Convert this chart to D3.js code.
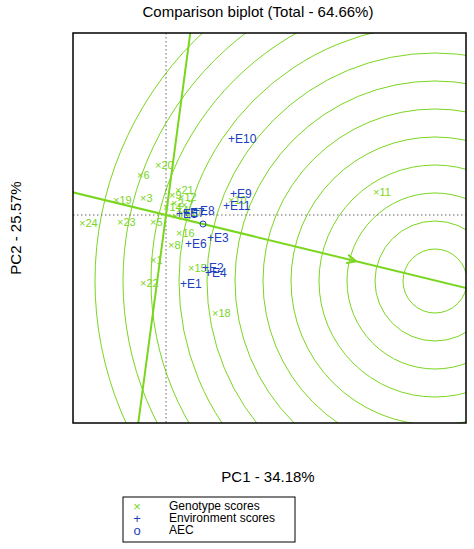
<!DOCTYPE html><html><head><script src="https://d3js.org/d3.v7.min.js"></script>
<style>body{margin:0;background:#fff}text{font-family:"Liberation Sans",Arial,sans-serif}</style></head><body>
<script>
const genoNames=["11","18","22","1","15","24","23","19","3","6","20","5","8","16","10","2","4","7","9","12","13","14","17","21"];
const genoPC1=[20.7,4.6,-2.6,-1.6,2.2,-8.7,-4.9,-5.3,-2.6,-2.9,-1.1,-1.6,0.2,1.0,6.2,0.5,1.0,1.5,0.3,1.2,0.6,-0.3,1.8,0.9];
const genoPC2=[2.3,-9.8,-6.8,-4.5,-5.3,-0.8,-0.7,1.5,1.7,4.0,5.0,-0.7,-3.0,-1.8,1.5,1.2,0.5,1.0,2.0,1.8,-0.1,0.8,0.3,2.5];
const envNames=["E1","E2","E3","E4","E5","E6","E7","E8","E9","E10","E11"];
const envPC1=[1.7,3.9,4.4,4.2,1.3,2.2,2.0,3.0,6.7,6.5,6.0];
const envPC2=[-6.8,-5.2,-2.2,-5.7,0.2,-2.8,0.3,0.5,2.2,7.7,1.0];
const aec=[3.7,-0.9];
const idealPt=[26.9,-6.6];
const ringRadii=[3.2,6,8.8,11.6,14.4,17.2,20,22.8,25.6,28.4,31.2,34];
const perpDir=[-1,-7.5];
const G="#7ad61f",B="#2040c0";
const W=474,H=549,L=73,R=466,T=33,Bt=423;
const svg=d3.select("body").append("svg").attr("width",W).attr("height",H);
const x=d3.scaleLinear().domain([-9.3,30]).range([L,R]);
const y=d3.scaleLinear().domain([-20.8,18.2]).range([Bt,T]);
svg.append("defs").append("clipPath").attr("id","c").append("rect").attr("x",L).attr("y",T).attr("width",R-L).attr("height",Bt-T);
const g=svg.append("g").attr("clip-path","url(#c)");
const u=x(1)-x(0);
ringRadii.forEach(r=>g.append("circle").attr("cx",x(idealPt[0])).attr("cy",y(idealPt[1])).attr("r",r*u).attr("fill","none").attr("stroke",G).attr("stroke-width",1));
g.append("line").attr("x1",x(0)).attr("x2",x(0)).attr("y1",T).attr("y2",Bt).attr("stroke","#666").attr("stroke-dasharray","1.5,2.5");
g.append("line").attr("x1",L).attr("x2",R).attr("y1",y(0)).attr("y2",y(0)).attr("stroke","#666").attr("stroke-dasharray","1.5,2.5");
const k=aec[1]/aec[0];
g.append("line").attr("x1",x(-12)).attr("y1",y(-12*k)).attr("x2",x(35)).attr("y2",y(35*k)).attr("stroke",G).attr("stroke-width",2);
g.append("line").attr("x1",x(perpDir[0]*4)).attr("y1",y(perpDir[1]*4)).attr("x2",x(-perpDir[0]*4)).attr("y2",y(-perpDir[1]*4)).attr("stroke",G).attr("stroke-width",2);
const ax=19,ay=ax*k,ang=Math.atan2(y(ay)-y(0),x(ax)-x(0));
const tip=[x(ax),y(ay)];
const p=(a)=>[tip[0]-10*Math.cos(ang+a),tip[1]-10*Math.sin(ang+a)];
g.append("polyline").attr("points",[p(0.45),tip,p(-0.45)].map(d=>d.join(",")).join(" ")).attr("fill","none").attr("stroke",G).attr("stroke-width",2);
genoNames.forEach((n,i)=>{g.append("text").attr("x",x(genoPC1[i])).attr("y",y(genoPC2[i])+4).attr("font-size",11).attr("fill",G).text("×"+n);});
envNames.forEach((n,i)=>{g.append("text").attr("x",x(envPC1[i])-3).attr("y",y(envPC2[i])+5).attr("font-size",12).attr("fill",B).text("+"+n);});
g.append("circle").attr("cx",x(aec[0])).attr("cy",y(aec[1])).attr("r",3).attr("fill","none").attr("stroke",B);
svg.append("rect").attr("x",L).attr("y",T).attr("width",R-L).attr("height",Bt-T).attr("fill","none").attr("stroke","#000").attr("stroke-width",1.5);
svg.append("text").attr("x",258).attr("y",17).attr("text-anchor","middle").attr("font-size",15).text("Comparison biplot (Total - 64.66%)");
svg.append("text").attr("x",268).attr("y",482).attr("text-anchor","middle").attr("font-size",15).text("PC1 - 34.18%");
svg.append("text").attr("transform","translate(21,228) rotate(-90)").attr("text-anchor","middle").attr("font-size",15).text("PC2 - 25.57%");
svg.append("rect").attr("x",123).attr("y",497).attr("width",172).attr("height",45).attr("fill","none").attr("stroke","#000");
const leg=[["×",G,"Genotype scores"],["+",B,"Environment scores"],["o",B,"AEC"]];
leg.forEach((d,i)=>{svg.append("text").attr("x",137).attr("y",511+i*12).attr("text-anchor","middle").attr("font-size",13).attr("fill",d[1]).text(d[0]);
svg.append("text").attr("x",169).attr("y",510+i*12).attr("font-size",12).text(d[2]);});
</script></body></html>
